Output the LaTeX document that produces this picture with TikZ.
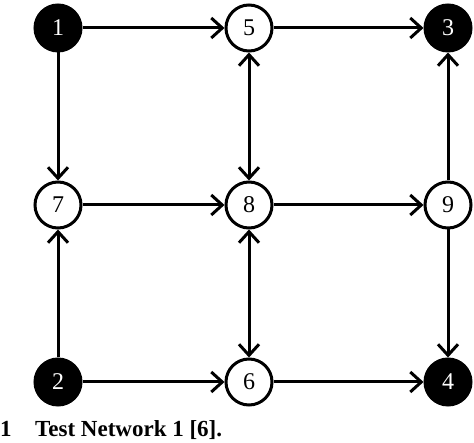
\documentclass[tikz,border=0pt]{standalone}
\usepackage{fontspec}
\setmainfont{Liberation Serif}
\usetikzlibrary{arrows.meta}
\tikzstyle{bnd}=[circle,draw=black,fill=black,line width=1pt,minimum size=48pt,inner sep=0pt,text=white,font=\fontsize{24}{24}\selectfont]
\tikzstyle{wnd}=[circle,draw=black,fill=white,line width=3pt,minimum size=46pt,inner sep=0pt,font=\fontsize{24}{24}\selectfont]
\tikzstyle{ed}=[line width=3pt,-{Straight Barb[length=11pt,width=20pt]}]
\tikzstyle{bd}=[line width=3pt,{Straight Barb[length=11pt,width=20pt]}-{Straight Barb[length=11pt,width=20pt]}]

\begin{document}
\begin{tikzpicture}[x=1pt,y=-1pt]
\useasboundingbox (0,0) rectangle (474,443);
\node[bnd] (n1) at (58,28) {1};
\node[wnd] (n5) at (249,28) {5};
\node[bnd] (n3) at (448,28) {3};
\node[wnd] (n7) at (58,205) {7};
\node[wnd] (n8) at (249,205) {8};
\node[wnd] (n9) at (448,205) {9};
\node[bnd] (n2) at (58,382) {2};
\node[wnd] (n6) at (249,382) {6};
\node[bnd] (n4) at (448,382) {4};
\draw[ed] (n1) -- (n5);
\draw[ed] (n5) -- (n3);
\draw[ed] (n1) -- (n7);
\draw[bd] (n5) -- (n8);
\draw[ed] (n9) -- (n3);
\draw[ed] (n7) -- (n8);
\draw[ed] (n8) -- (n9);
\draw[ed] (n2) -- (n7);
\draw[bd] (n8) -- (n6);
\draw[ed] (n9) -- (n4);
\draw[ed] (n2) -- (n6);
\draw[ed] (n6) -- (n4);
\node[anchor=base west,inner sep=0pt,font=\fontsize{23}{23}\selectfont\bfseries] (fig) at (0,436) {1};
\node[anchor=base west,inner sep=0pt,font=\fontsize{23}{23}\selectfont\bfseries] (cap) at (35,436) {Test Network 1 [6].};
\end{tikzpicture}
\end{document}
